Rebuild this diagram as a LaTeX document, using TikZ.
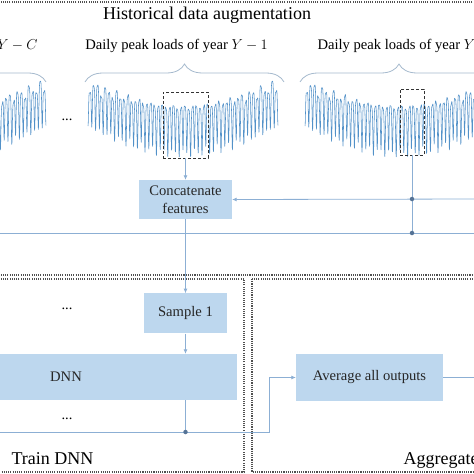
\documentclass[tikz,border=0pt]{standalone}
\usepackage{fontspec}
\setmainfont{Liberation Serif}
\usetikzlibrary{positioning,calc,arrows.meta,decorations.pathreplacing}

\definecolor{boxblue}{RGB}{189,215,238}
\definecolor{linkblue}{RGB}{140,175,212}
\definecolor{dotblue}{RGB}{85,115,150}
\definecolor{curveblue}{RGB}{82,145,200}
\definecolor{bracegray}{RGB}{165,185,205}
\definecolor{framegray}{RGB}{80,80,80}

\newcommand{\bodyfont}{\fontsize{14.6}{17.5}\selectfont}
\newcommand{\titlefont}{\fontsize{18}{21}\selectfont}

\tikzset{
  blockbox/.style={fill=boxblue, text=black!85, inner sep=2pt, align=center, font=\bodyfont},
  link/.style={draw=linkblue, line width=0.8pt},
  linkarrow/.style={link, -{Latex[length=4.5pt,width=4pt]}},
  junction/.style={circle, fill=dotblue, inner sep=0pt, minimum size=4.5pt},
  window/.style={draw=black!80, densely dashed, line width=0.9pt, inner sep=0pt},
  stageframe/.style={draw=framegray, line width=1.6pt, dash pattern=on 1.1pt off 1.1pt},
  loadcurve/.style={draw=curveblue, line width=0.55pt, line join=round},
  yearbrace/.style={draw=bracegray, line width=0.8pt, decorate, decoration={brace, amplitude=18pt}},
  declare function={
    wk(\u)=cos(180*50*\u)*cos(180*50*\u);
    peakload(\u)=86+22*sin(180*\u)+(40+6*sin(180*\u))*wk(\u)*wk(\u)*wk(\u)
      +3*sin(360*17.3*\u)+2.5*sin(360*31.7*\u)+1.5*sin(180*61.3*\u);
  },
}

\begin{document}
\begin{tikzpicture}[x=1pt, y=-1pt]
\useasboundingbox (0,0) rectangle (474,474);
\clip (0,0) rectangle (474,474);

% stages
\draw[stageframe] (-10,2) rectangle (484,275);
\draw[stageframe] (-10,279) rectangle (244,472);
\draw[stageframe] (252,279) rectangle (484,472);

\node[font=\titlefont] (augtitle) at (207,15) {Historical data augmentation};
\node[font=\titlefont, anchor=base west] (traintitle) at (8,464) {Train DNN};
\node[font=\titlefont, anchor=base west] (aggtitle) at (400,464) {Aggregate};

% yearly load series
\node[font=\bodyfont, anchor=east] (labC) at (41,46) {Daily peak loads of year $Y-C$};
\node[font=\bodyfont] (lab1) at (176.5,46) {Daily peak loads of year $Y-1$};
\node[font=\bodyfont, anchor=west] (lab0) at (314,46) {Daily peak loads of year $Y$};

\draw[yearbrace] (-152,82) -- (46,82);
\draw[yearbrace] (85,82) -- (284,82);
\draw[yearbrace] (300,82) -- (498,82);

\draw[loadcurve] plot[domain=-144:46, samples=900] (\x, {peakload((\x+144)/190)});
\draw[loadcurve] plot[domain=88:278, samples=900] (\x, {peakload((\x-88)/190)});
\draw[loadcurve] plot[domain=305:495, samples=900] (\x, {peakload((\x-305)/190)});

\node[font=\bodyfont] (dotsC) at (67,120) {...};
\node[window, minimum width=45pt, minimum height=66pt] (winM) at (185.5,125) {};
\node[window, minimum width=24pt, minimum height=66pt] (winY) at (412,122) {};

% blocks
\node[blockbox, minimum width=93pt, minimum height=39pt] (concat) at (185.5,199.5) {Concatenate\\features};
\node[blockbox, minimum width=83pt, minimum height=40pt, below=74pt of concat] (sample) {Sample 1};
\node[blockbox, minimum width=342pt, minimum height=46pt] (dnn) at (66,377) {DNN};
\node[blockbox, minimum width=147pt, minimum height=47pt] (avg) at (369.5,377.5) {Average all outputs};
\node[font=\bodyfont] (dotsU) at (67,309) {...};
\node[font=\bodyfont] (dotsL) at (67,419) {...};

\coordinate (splitA) at (412,199);
\coordinate (splitB) at (412,233);
\coordinate (feedin) at (480,199);
\coordinate (lineL) at (-5,233);
\coordinate (lineR) at (480,233);
\coordinate (collect) at (sample.south |- 0,432);
\coordinate (collectL) at (-5,432);
\coordinate (bend) at (269,432);
\coordinate (avgout) at (480,377.5);

% connectors
\draw[link] (winY.south) -- (splitB);
\draw[linkarrow] (feedin) -- (concat.east);
\draw[link] (lineL) -- (lineR);
\draw[linkarrow] (winM.south) -- (concat.north);
\draw[linkarrow] (concat.south) -- (sample.north);
\draw[linkarrow] (sample.south) -- (sample.south |- dnn.north);
\draw[link] (sample.south |- dnn.south) -- (collect);
\draw[linkarrow] (collectL) -- (bend) |- (avg.west);
\draw[link] (avg.east) -- (avgout);

\node[junction] at (splitA) {};
\node[junction] at (splitB) {};
\node[junction] at (collect) {};
\end{tikzpicture}
\end{document}
